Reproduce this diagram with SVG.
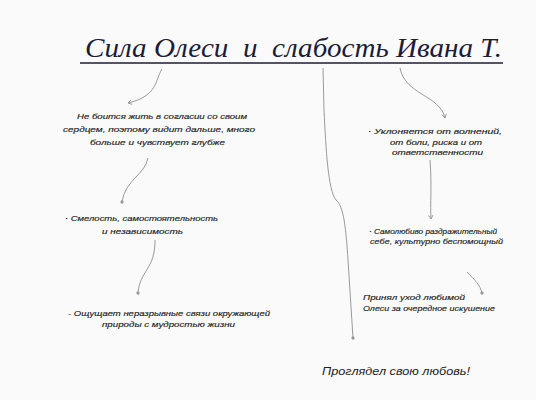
<svg xmlns="http://www.w3.org/2000/svg" width="536" height="400" viewBox="0 0 536 400">
<defs>
<marker id="ah" viewBox="0 0 8 8" refX="6" refY="4" markerWidth="6" markerHeight="6" orient="auto" markerUnits="userSpaceOnUse">
<path d="M1,1 L6,4 L1,7" fill="none" stroke="#999" stroke-width="1.2"/>
</marker>
<marker id="dot" viewBox="0 0 6 6" refX="3" refY="3" markerWidth="4" markerHeight="4" markerUnits="userSpaceOnUse">
<circle cx="3" cy="3" r="2.5" fill="#999"/>
</marker>
</defs>
<style>
.t{font-family:"Liberation Sans","DejaVu Sans",sans-serif;font-style:italic;font-size:8px;fill:#1a1a1a;stroke:#1a1a1a;stroke-width:0.15}
.ln{fill:none;stroke:#9a9a9a;stroke-width:1}
</style>
<rect width="536" height="400" fill="#fafafa"/>
<g id="title">
<text x="85" y="57" xml:space="preserve" font-family="Liberation Serif, serif" font-style="italic" font-size="28" fill="#1c1c38" textLength="417" lengthAdjust="spacingAndGlyphs">Сила Олеси  и  слабость Ивана Т.</text>
<line x1="80" y1="63" x2="503" y2="63" stroke="#1c1c38" stroke-width="1.3"/>
</g>
<g id="connectors">
<path class="ln" d="M162,69 C155,80 158,96 128,103" marker-end="url(#ah)"/>
<path class="ln" d="M323,68 L324,110 C326,150 328,190 336,200 C344,206 346,230 348,260 L353,338" marker-end="url(#dot)"/>
<path class="ln" d="M400,68 C405,95 440,95 445,118" marker-end="url(#ah)"/>
<path class="ln" d="M148,158 C145,175 125,180 122,202" marker-end="url(#dot)"/>
<path class="ln" d="M155,240 C155,270 140,270 138,293" marker-end="url(#dot)"/>
<path class="ln" d="M430,160 C432,185 430,205 431,219" marker-end="url(#ah)"/>
<path class="ln" d="M467,272 C475,280 480,285 482,293" marker-end="url(#dot)"/>
</g>
<g id="olesya1">
<text class="t" x="77" y="119" textLength="170" lengthAdjust="spacingAndGlyphs">Не боится жить в согласии со своим</text>
<text class="t" x="63" y="132" textLength="192" lengthAdjust="spacingAndGlyphs">сердцем, поэтому видит дальше,  много</text>
<text class="t" x="90" y="145" textLength="135" lengthAdjust="spacingAndGlyphs">больше и чувствует глубже</text>
</g>
<g id="olesya2">
<text class="t" x="65" y="221" textLength="153" lengthAdjust="spacingAndGlyphs">· Смелость, самостоятельность</text>
<text class="t" x="102" y="234" textLength="81" lengthAdjust="spacingAndGlyphs">и независимость</text>
</g>
<g id="olesya3">
<text class="t" x="68" y="316" textLength="202" lengthAdjust="spacingAndGlyphs">- Ощущает неразрывные связи окружающей</text>
<text class="t" x="102" y="327" textLength="133" lengthAdjust="spacingAndGlyphs">природы с мудростью жизни</text>
</g>
<g id="ivan1">
<text class="t" x="368" y="134" textLength="134" lengthAdjust="spacingAndGlyphs">· Уклоняется  от волнений,</text>
<text class="t" x="390" y="145" textLength="92" lengthAdjust="spacingAndGlyphs">от боли, риска и от</text>
<text class="t" x="392" y="155" textLength="91" lengthAdjust="spacingAndGlyphs">ответственности</text>
</g>
<g id="ivan2">
<text class="t" x="369" y="234" textLength="128" lengthAdjust="spacingAndGlyphs">· Самолюбиво раздражительный</text>
<text class="t" x="370" y="244" textLength="133" lengthAdjust="spacingAndGlyphs">себе, культурно беспомощный</text>
</g>
<g id="ivan3">
<text class="t" x="363" y="300" textLength="102" lengthAdjust="spacingAndGlyphs">Принял уход любимой</text>
<text class="t" x="363" y="311" textLength="132" lengthAdjust="spacingAndGlyphs">Олеси за очередное искушение</text>
</g>
<g id="result">
<text x="322" y="375" font-family="Liberation Sans, sans-serif" font-style="italic" font-size="11" fill="#222" textLength="148" lengthAdjust="spacingAndGlyphs">Проглядел свою любовь!</text>
</g>
</svg>
